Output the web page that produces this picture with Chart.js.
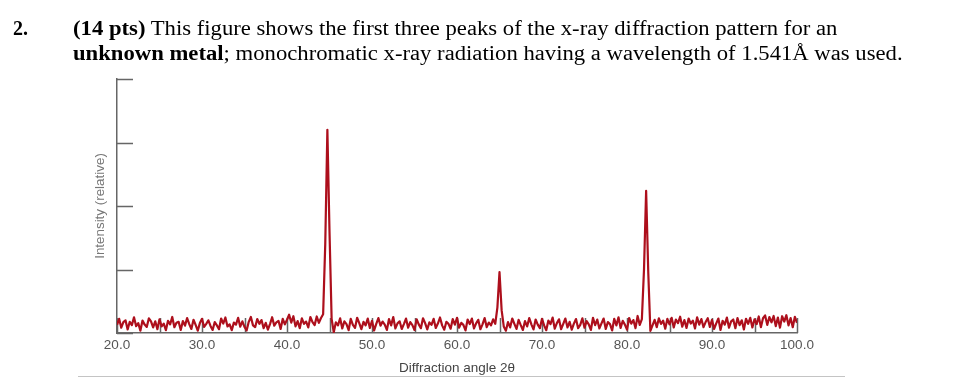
<!DOCTYPE html>
<html>
<head>
<meta charset="utf-8">
<script src="https://cdn.jsdelivr.net/npm/chart.js@4.4.1/dist/chart.umd.min.js"></script>
<style>
    html, body { margin: 0; padding: 0; background: #fff; }
    #wrap { position: relative; width: 954px; height: 388px; overflow: hidden; }
    #xrdChart { position: absolute; left: 0; top: 0; }
    .q { position: absolute; font-family: "Liberation Serif", "Times New Roman", serif; font-size: 20px; line-height: 25px; color: #000; white-space: nowrap; }
    .wide { transform: scaleX(1.134); transform-origin: 0 0; }
    #rule { position: absolute; left: 78px; top: 376px; width: 767px; height: 1px; background: #c4c4c4; }
</style>
</head>
<body>
<div id="wrap">
    <canvas id="xrdChart" width="954" height="388"></canvas>
    <div class="q" style="left:13px; top:16px;"><b>2.</b></div>
    <div class="q wide" style="left:73px; top:16px;">
        <b>(14 pts)</b> This figure shows the first three peaks of the x-ray diffraction pattern for an<br>
        <b>unknown metal</b>; monochromatic x-ray radiation having a wavelength of 1.541Å was used.
    </div>
    <div id="rule"></div>
</div>
<script>
// Sampling grid of the pattern (degrees 2θ)
const angleStart = 20;
const angleStep = 0.25;

// Relative intensity (0 = axis, 100 = top tick)
const intensity = [
    3.2, 5.6, 2.1, 4.3, 5.0, 1.4, 4.4, 3.1, 6.2, 2.7, 3.9, 0.9, 4.9, 3.3, 2.4, 5.8, 4.6, 2.2, 4.6, 1.5,
    5.4, 2.6, 3.7, 1.1, 4.8, 3.4, 6.3, 2.3, 4.0, 4.4, 1.2, 4.7, 2.9, 5.9, 3.5, 1.6, 5.2, 3.2, 0.9, 3.9,
    5.6, 2.4, 3.6, 5.0, 2.8, 1.2, 4.3, 3.0, 1.5, 5.7, 3.7, 6.1, 2.6, 3.4, 1.1, 4.1, 3.3, 6.0, 2.5, 4.6,
    2.4, 1.0, 4.4, 6.3, 3.0, 2.3, 5.5, 3.6, 5.1, 1.9, 4.0, 1.3, 3.5, 6.2, 2.9, 4.2, 4.8, 1.6, 5.6, 3.4,
    5.2, 7.2, 4.1, 6.6, 2.6, 4.7, 1.9, 5.8, 3.6, 4.5, 2.2, 6.3, 4.3, 3.1, 6.5, 4.0, 5.9, 7.4, 35, 80,
    40, 5.5, 0.3, 4.2, 3.0, 5.8, 1.8, 4.6, 3.5, 1.1, 5.6, 3.2, 2.0, 6.0, 3.9, 1.5, 4.4, 3.0, 5.7, 2.0,
    4.8, 1.0, 3.6, 5.9, 2.9, 4.5, 3.3, 1.2, 5.5, 3.0, 6.3, 1.8, 3.8, 4.6, 1.6, 3.5, 5.7, 2.1, 4.3, 3.1,
    1.2, 5.4, 3.4, 1.9, 5.8, 3.9, 1.4, 4.2, 3.2, 5.6, 2.0, 3.7, 6.1, 3.0, 1.3, 4.4, 3.6, 1.7, 5.5, 3.3,
    6.0, 2.1, 4.0, 3.2, 1.0, 5.3, 3.5, 5.7, 1.8, 3.8, 5.2, 1.5, 3.4, 5.9, 2.3, 4.1, 3.0, 5.4, 3.6, 10,
    24, 9, 2.6, 0.9, 4.3, 2.2, 5.7, 3.6, 1.6, 5.2, 3.1, 1.2, 4.7, 2.6, 5.9, 3.4, 1.4, 5.3, 3.3, 1.9,
    5.6, 3.0, 1.1, 4.9, 3.5, 6.1, 1.7, 3.9, 5.4, 1.5, 3.6, 5.7, 2.2, 4.4, 1.3, 3.7, 5.5, 1.9, 3.2, 5.8,
    2.1, 4.7, 3.4, 1.2, 6.0, 3.1, 5.3, 1.8, 3.8, 5.7, 1.6, 4.3, 3.5, 1.0, 5.6, 3.0, 6.2, 2.0, 4.8, 3.3,
    1.3, 5.9, 3.7, 5.1, 1.9, 6.7, 3.2, 5.5, 25, 56, 24, 0.8, 3.0, 5.2, 2.3, 5.8, 3.6, 4.9, 1.7, 5.6,
    3.4, 6.0, 2.2, 5.3, 3.9, 6.4, 2.5, 5.1, 2.0, 5.7, 3.7, 4.9, 1.8, 6.2, 3.3, 5.5, 2.3, 4.3, 5.8, 2.4,
    5.2, 1.6, 3.8, 5.7, 1.2, 4.8, 3.3, 6.1, 2.1, 4.6, 5.3, 1.9, 5.9, 3.1, 5.0, 1.4, 5.6, 3.6, 6.0, 2.2,
    5.4, 3.5, 6.5, 2.3, 5.8, 6.9, 3.2, 6.3, 4.2, 6.7, 2.7, 6.1, 2.1, 6.6, 4.5, 7.0, 3.0, 5.9, 2.3, 6.4,
    4.0
];

// Axis ticks
const xTickLabels = ['20.0', '30.0', '40.0', '50.0', '60.0', '70.0', '80.0', '90.0', '100.0'];
const xMinorTicks = [20, 25, 30, 35, 40, 45, 50, 55, 60, 65, 70, 75, 80, 85, 90, 95, 100];
const yTicks = [0, 25, 50, 75, 100];

const axisColor = '#666';

// Small inward tick marks, like the printed figure
const inwardTicks = {
    id: 'inwardTicks',
    beforeDatasetsDraw(chart) {
        const { ctx, scales: { x, y } } = chart;
        ctx.save();
        ctx.strokeStyle = axisColor;
        ctx.lineWidth = 1.5;
        ctx.beginPath();
        xMinorTicks.forEach(v => {
            const px = Math.round(x.getPixelForValue(v)) + 0.5;
            ctx.moveTo(px, y.bottom);
            ctx.lineTo(px, y.bottom - 15);
        });
        yTicks.forEach(v => {
            const py = Math.round(y.getPixelForValue(v)) + 0.5;
            ctx.moveTo(x.left, py);
            ctx.lineTo(x.left + 16, py);
        });
        ctx.stroke();
        ctx.restore();
    }
};

// Create chart
const ctx = document.getElementById('xrdChart').getContext('2d');
const xrdChart = new Chart(ctx, {
    type: 'line',
    data: {
        datasets: [{
            label: 'Intensity',
            data: intensity.map((v, i) => ({ x: angleStart + i * angleStep, y: v })),
            borderColor: '#ad0f1c',
            borderWidth: 2.2,
            borderJoinStyle: 'round',
            pointRadius: 0,
            tension: 0,
            fill: false
        }]
    },
    options: {
        responsive: false,
        animation: false,
        layout: {
            padding: { left: 77, top: 79, right: 157, bottom: 0 }
        },
        plugins: {
            legend: { display: false },
            tooltip: { enabled: false }
        },
        scales: {
            x: {
                type: 'linear',
                min: 20,
                max: 100,
                grid: { display: false, drawTicks: false },
                border: { display: true, color: axisColor, width: 1.5 },
                ticks: {
                    stepSize: 10,
                    padding: 4,
                    color: '#555',
                    font: { family: 'Liberation Sans', size: 13.5 },
                    callback: function(value, index) {
                        return xTickLabels[index];
                    }
                },
                title: {
                    display: true,
                    text: 'Diffraction angle 2θ',
                    color: '#444',
                    font: { family: 'Liberation Sans', size: 13.5 },
                    padding: { top: 0, bottom: 12 }
                },
                afterFit: function(scale) {
                    scale.height = 55;
                }
            },
            y: {
                min: 0,
                max: 100,
                grid: { display: false, drawTicks: false },
                border: { display: true, color: axisColor, width: 1.5 },
                ticks: { display: false },
                title: {
                    display: true,
                    text: 'Intensity (relative)',
                    color: '#777',
                    font: { family: 'Liberation Sans', size: 13.4 },
                    padding: { top: 15, bottom: 0 }
                },
                afterFit: function(scale) {
                    scale.width = 40;
                }
            }
        }
    },
    plugins: [inwardTicks]
});
</script>
</body>
</html>
